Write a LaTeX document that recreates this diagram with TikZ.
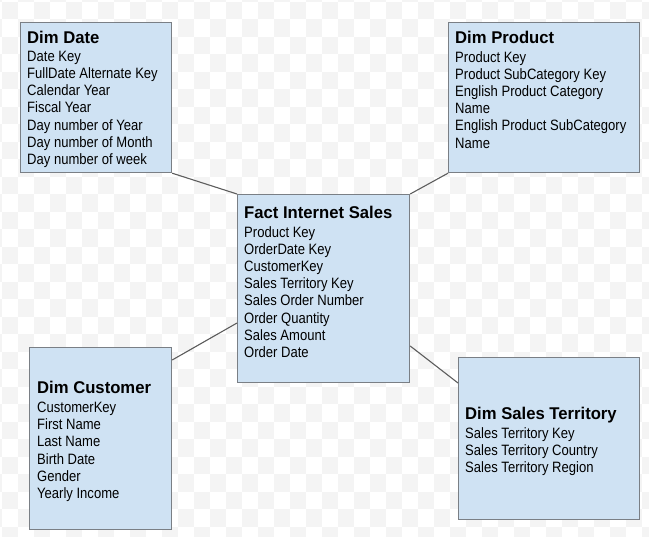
\documentclass[tikz,border=0pt]{standalone}
\usepackage{fontspec}
\setmainfont{Liberation Sans}
\newfontfamily\fieldfont[FakeStretch=0.87]{Liberation Sans}
\newfontfamily\headfont[FakeStretch=0.98]{Liberation Sans}
\usetikzlibrary{positioning}
\definecolor{boxblue}{rgb}{0.812, 0.886, 0.953}
\definecolor{boxgray}{rgb}{0.478, 0.498, 0.522}
\definecolor{linkgray}{rgb}{0.365, 0.365, 0.365}
\definecolor{checkgray}{rgb}{0.957, 0.957, 0.957}

\begin{document}
\begin{tikzpicture}[x=1pt,y=-1pt,
  tablebox/.style={draw=boxgray,fill=boxblue,line width=1.2pt,anchor=north west,inner sep=0pt},
  tabletitle/.style={anchor=base west,inner sep=0pt,font=\headfont\bfseries\fontsize{17pt}{20pt}\selectfont},
  tablefields/.style={inner sep=0pt,align=left,font=\fieldfont\fontsize{15pt}{17.2pt}\selectfont,
    execute at begin node={\rule{0pt}{12pt}}},
  link/.style={draw=linkgray,line width=1.1pt}]

\useasboundingbox (0,0) rectangle (649,537);

% checker background
\begin{scope}
\clip (0,0) rectangle (649,537);
\foreach \j in {-1,...,30}{
  \pgfmathtruncatemacro\ia{mod(\j+1,2)-1}
  \pgfmathtruncatemacro\ib{\ia+2}
  \foreach \i in {\ia,\ib,...,40}
    \fill[checkgray] (2.3+16*\i,1.7+17.5*\j) rectangle ++(16,17.5);
}
\end{scope}


% table boxes
\node[tablebox,minimum width=151pt,minimum height=150pt] (date)      at (20,22)   {};
\node[tablebox,minimum width=191pt,minimum height=150pt] (product)   at (448,22)  {};
\node[tablebox,minimum width=172pt,minimum height=188pt] (fact)      at (237,194) {};
\node[tablebox,minimum width=142pt,minimum height=182pt] (customer)  at (29,347)  {};
\node[tablebox,minimum width=181pt,minimum height=162pt] (territory) at (458,357) {};


% links to the fact table
\draw[link] (date.south east) -- (fact.north west);
\draw[link] (product.south west) -- (fact.north east);
\draw[link] ([yshift=-13pt]customer.north east) -- ([yshift=-129pt]fact.north west);
\draw[link] ([yshift=-152pt]fact.north east) -- ([yshift=-26pt]territory.north west);


% dim date
\node[tabletitle] (datetitle) at (27,43.3) {Dim Date};
\node[tablefields,below=7.5pt of datetitle.base west,anchor=north west] (datefields)
  {Date Key\\FullDate Alternate Key\\Calendar Year\\Fiscal Year\\Day number of Year\\Day number of Month\\Day number of week};

% dim product
\node[tabletitle] (producttitle) at (455,43.3) {Dim Product};
\node[tablefields,below=7.7pt of producttitle.base west,anchor=north west] (productfields)
  {Product Key\\Product SubCategory Key\\English Product Category\\Name\\English Product SubCategory\\Name};

% fact internet sales
\node[tabletitle] (facttitle) at (244,218.3) {Fact Internet Sales};
\node[tablefields,below=7.7pt of facttitle.base west,anchor=north west] (factfields)
  {Product Key\\OrderDate Key\\CustomerKey\\Sales Territory Key\\Sales Order Number\\Order Quantity\\Sales Amount\\Order Date};

% dim customer
\node[tabletitle] (customertitle) at (37,393.3) {Dim Customer};
\node[tablefields,below=8.5pt of customertitle.base west,anchor=north west] (customerfields)
  {CustomerKey\\First Name\\Last Name\\Birth Date\\Gender\\Yearly Income};

% dim sales territory
\node[tabletitle] (territorytitle) at (465,419.3) {Dim Sales Territory};
\node[tablefields,below=8pt of territorytitle.base west,anchor=north west] (territoryfields)
  {Sales Territory Key\\Sales Territory Country\\Sales Territory Region};
\end{tikzpicture}
\end{document}
